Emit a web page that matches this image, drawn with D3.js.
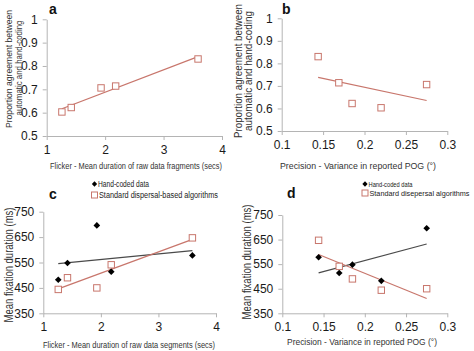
<!DOCTYPE html>
<html>
<head>
<meta charset="utf-8">
<script src="https://cdn.jsdelivr.net/npm/d3@7"></script>
<style>
  body { margin: 0; background: #fff; }
  svg { font-family: "Liberation Sans", Arial, sans-serif; }
</style>
</head>
<body>
<div id="container"></div>
<script>
// one entry per participant
let flicker = [1.26, 1.42, 1.93, 2.18, 3.59];
let precision = [0.220, 0.185, 0.275, 0.169, 0.144];
let agreement = [0.603, 0.622, 0.706, 0.714, 0.830];
let handCoded = [482, 548, 696, 514, 578];
let standard = [444, 490, 450, 541, 647];

let flickerTicks = [1, 2, 3, 4];
let precisionTicks = [0.1, 0.15, 0.2, 0.25, 0.3];
let agreementTicks = [0.5, 0.6, 0.7, 0.8, 0.9, 1];
let durationTicks = [350, 450, 550, 650, 750];

let w = 474;
let h = 351;
let red = "#c8766c";

let svg = d3.select("#container")
  .append("svg")
  .attr("width", w)
  .attr("height", h);

// least squares trend line, like the excel one
function fit(xs, ys) {
  let mx = d3.mean(xs), my = d3.mean(ys);
  let sxy = d3.sum(xs, (x, i) => (x - mx) * (ys[i] - my));
  let sxx = d3.sum(xs, x => (x - mx) * (x - mx));
  let b = sxy / sxx;
  let a = my - b * mx;
  let x0 = d3.min(xs), x1 = d3.max(xs);
  return [[x0, a + b * x0], [x1, a + b * x1]];
}

function panel(p) {
  let g = svg.append("g");
  let x = d3.scaleLinear().domain(p.xDomain).range(p.xRange);
  let y = d3.scaleLinear().domain(p.yDomain).range(p.yRange);

  let xAxis = g.append("g")
    .attr("transform", "translate(0," + p.yRange[0] + ")")
    .call(d3.axisBottom(x).tickValues(p.xTicks).tickSize(4).tickSizeOuter(0).tickPadding(5)
      .tickFormat(d => String(d)));
  let yAxis = g.append("g")
    .attr("transform", "translate(" + p.xRange[0] + ",0)")
    .call(d3.axisLeft(y).tickValues(p.yTicks).tickSize(4).tickSizeOuter(0).tickPadding(5)
      .tickFormat(d => String(d)));
  [xAxis, yAxis].forEach(a => {
    a.select(".domain").attr("stroke", "#b4b4b4");
    a.selectAll(".tick line").attr("stroke", "#b4b4b4");
    a.selectAll(".tick text").attr("fill", "#1a1a1a").style("font-size", "12px");
  });

  let line = d3.line().x(d => x(d[0])).y(d => y(d[1]));

  p.series.forEach(s => {
    g.append("path")
      .datum(fit(s.xs, s.ys))
      .attr("fill", "none")
      .attr("stroke", s.lineColor)
      .attr("stroke-width", 1.2)
      .attr("d", line);
  });

  p.series.forEach(s => {
    let pts = s.xs.map((v, i) => [v, s.ys[i]]);
    if (s.marker === "square") {
      g.selectAll(null).data(pts).enter().append("rect")
        .attr("x", d => x(d[0]) - 3.2)
        .attr("y", d => y(d[1]) - 3.2)
        .attr("width", 6.4)
        .attr("height", 6.4)
        .attr("fill", "#fff")
        .attr("stroke", red)
        .attr("stroke-width", 1);
    } else {
      g.selectAll(null).data(pts).enter().append("path")
        .attr("d", d3.symbol().type(d3.symbolSquare).size(22))
        .attr("transform", d => "translate(" + x(d[0]) + "," + y(d[1]) + ") rotate(45)")
        .attr("fill", "#000");
    }
  });

  // panel letter
  g.append("text")
    .attr("x", p.letter[1])
    .attr("y", p.letter[2])
    .style("font-size", "14px")
    .style("font-weight", "bold")
    .attr("fill", "#111")
    .text(p.letter[0]);

  // axis titles
  g.append("text")
    .attr("x", p.xTitle.x)
    .attr("y", p.xTitle.y)
    .attr("text-anchor", "middle")
    .attr("textLength", p.xTitle.len)
    .attr("lengthAdjust", "spacingAndGlyphs")
    .style("font-size", p.xTitle.size + "px")
    .attr("fill", "#333")
    .text(p.xTitle.text);

  p.yTitle.forEach(t => {
    g.append("text")
      .attr("transform", "translate(" + t.x + "," + t.y + ") rotate(-90)")
      .attr("text-anchor", "middle")
      .attr("textLength", t.len)
      .attr("lengthAdjust", "spacingAndGlyphs")
      .style("font-size", t.size + "px")
      .attr("fill", "#333")
      .text(t.text);
  });

  // legend
  if (p.legend) {
    let L = p.legend;
    g.append("path")
      .attr("d", d3.symbol().type(d3.symbolSquare).size(14))
      .attr("transform", "translate(" + L.x + "," + L.y1 + ") rotate(45)")
      .attr("fill", "#000");
    g.append("rect")
      .attr("x", L.x - 3).attr("y", L.y2 - 3)
      .attr("width", 6).attr("height", 6)
      .attr("fill", "#fff").attr("stroke", red);
    g.append("text")
      .attr("x", L.x + 3.5).attr("y", L.y1 + 3)
      .attr("textLength", L.len1).attr("lengthAdjust", "spacingAndGlyphs")
      .style("font-size", L.size + "px").attr("fill", "#222")
      .text("Hand-coded data");
    g.append("text")
      .attr("x", L.x + 4.5).attr("y", L.y2 + 3)
      .attr("textLength", L.len2).attr("lengthAdjust", "spacingAndGlyphs")
      .style("font-size", L.size + "px").attr("fill", "#222")
      .text(L.text2);
  }
}

panel({
  xDomain: [1, 4], xRange: [46.7, 222], xTicks: flickerTicks,
  yDomain: [0.5, 1], yRange: [136, 19.3], yTicks: agreementTicks,
  series: [{ xs: flicker, ys: agreement, marker: "square", lineColor: red }],
  letter: ["a", 49, 13.5],
  xTitle: { text: "Flicker - Mean duration of raw data fragments (secs)", x: 136, y: 169, len: 172, size: 9 },
  yTitle: [
    { text: "Proportion agreement between", x: 12, y: 69, len: 118, size: 9 },
    { text: "automatic and hand-coding", x: 22, y: 68, len: 95, size: 9 }
  ]
});

panel({
  xDomain: [0.1, 0.3], xRange: [281.7, 447.3], xTicks: precisionTicks,
  yDomain: [0.5, 1], yRange: [131, 18.3], yTicks: agreementTicks,
  series: [{ xs: precision, ys: agreement, marker: "square", lineColor: red }],
  letter: ["b", 282, 13.5],
  xTitle: { text: "Precision - Variance in reported POG (\u00b0)", x: 358, y: 169, len: 156, size: 9.5 },
  yTitle: [
    { text: "Proportion agreement between", x: 242, y: 71, len: 134, size: 10 },
    { text: "automatic and hand-coding", x: 252, y: 71, len: 120, size: 10 }
  ]
});

panel({
  xDomain: [1, 4], xRange: [43.3, 216], xTicks: flickerTicks,
  yDomain: [350, 750], yRange: [313.3, 211.7], yTicks: durationTicks,
  series: [
    { xs: flicker, ys: handCoded, marker: "diamond", lineColor: "#4a4a4a" },
    { xs: flicker, ys: standard, marker: "square", lineColor: red }
  ],
  letter: ["c", 49, 199],
  xTitle: { text: "Flicker - Mean duration of raw data segments (secs)", x: 129, y: 348, len: 172, size: 9 },
  yTitle: [{ text: "Mean fixation duration (ms)", x: 13, y: 265, len: 115, size: 12 }],
  legend: { x: 94.5, y1: 184, y2: 195, len1: 51, len2: 119, size: 8.5, text2: "Standard dispersal-based algorithms" }
});

panel({
  xDomain: [0.1, 0.3], xRange: [282.3, 447.3], xTicks: precisionTicks,
  yDomain: [350, 750], yRange: [313.3, 215], yTicks: durationTicks,
  series: [
    { xs: precision, ys: handCoded, marker: "diamond", lineColor: "#4a4a4a" },
    { xs: precision, ys: standard, marker: "square", lineColor: red }
  ],
  letter: ["d", 287, 198],
  xTitle: { text: "Precision - Variance in reported POG (\u00b0)", x: 362, y: 345, len: 150, size: 9.5 },
  yTitle: [{ text: "Mean fixation duration (ms)", x: 251, y: 262, len: 115, size: 12 }],
  legend: { x: 365, y1: 184, y2: 193, len1: 44, len2: 100, size: 7.3, text2: "Standard disepersal algorithms" }
});
</script>
</body>
</html>
